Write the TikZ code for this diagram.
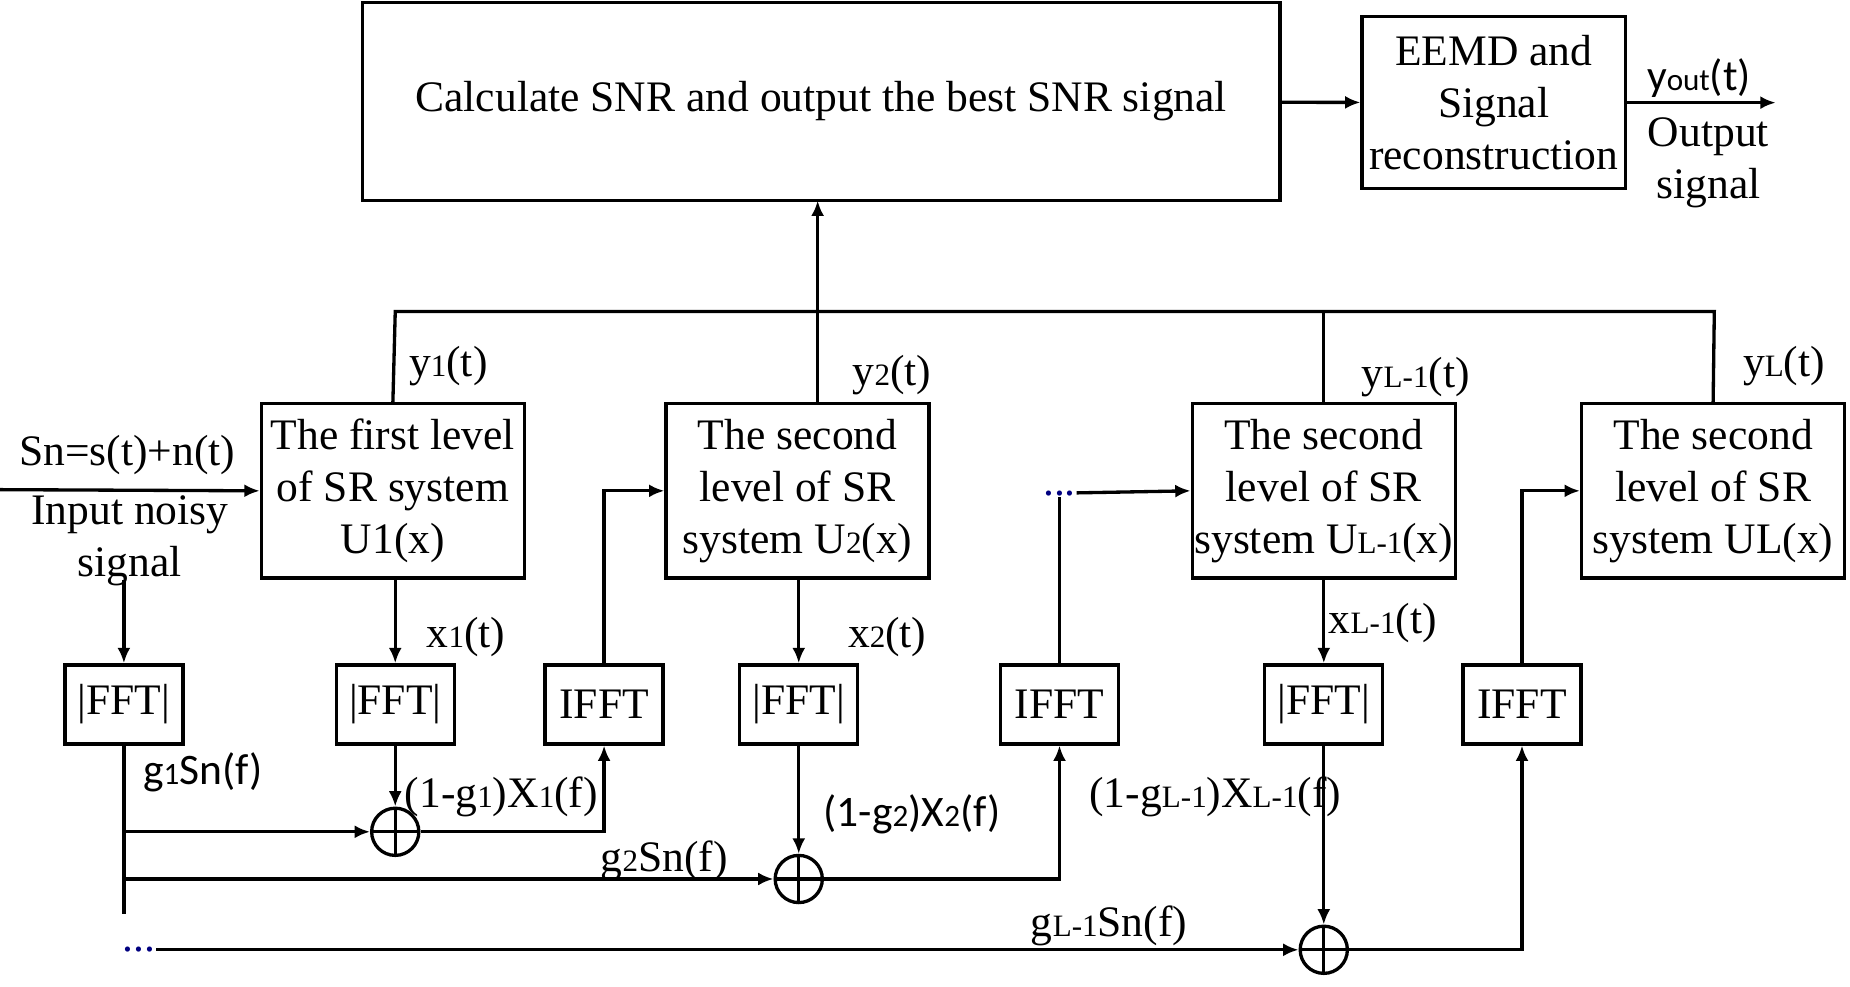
\documentclass[tikz,border=0pt]{standalone}
\usepackage{fontspec}
\setmainfont{Liberation Serif}
\newfontfamily\sansfam{Carlito}
\usetikzlibrary{positioning, arrows.meta}
\newcommand{\lo}[1]{{\fontsize{7.5}{8}\selectfont #1}}

\begin{document}
\begin{tikzpicture}[x=0.1mm, y=-0.1mm,
    font=\fontsize{10.5}{12.5}\selectfont,
    box/.style={rectangle, draw, thick, align=center, inner sep=0pt},
    level/.style={box, minimum width=22.3mm, minimum height=14.8mm},
    fft/.style={box, minimum width=10mm, minimum height=6.7mm},
    sum/.style={circle, draw, thick, minimum size=4mm, inner sep=0pt,
        path picture={\draw[thick] (path picture bounding box.north) -- (path picture bounding box.south)
        (path picture bounding box.west) -- (path picture bounding box.east);}},
    arrow/.style={-{Latex[length=1.3mm, width=1.1mm]}, thick},
    line/.style={thick}
]
\useasboundingbox (0,0) rectangle (1568,836);

% top row
\node[box, minimum width=77.8mm, minimum height=16.8mm] (snr) at (696,86) {Calculate SNR and output the best SNR signal};
\node[box, minimum width=22.3mm, minimum height=14.6mm] (eemd) at (1266,87) {EEMD and\\Signal\\reconstruction};
\coordinate (out) at (1505,86);

% SR levels
\node[level] (u1) at (333,416) {The first level\\of SR system\\U1(x)};
\node[level] (u2) at (676,416) {The second\\level of SR\\system U\lo{2}(x)};
\node[level] (u3) at (1122,416) {The second\\level of SR\\system U\lo{L-1}(x)};
\node[level] (u4) at (1452,416) {The second\\level of SR\\system UL(x)};

% FFT / IFFT
\node[fft] (f0) at (105,597) {|FFT|};
\node[fft] (f1) at (335,597) {|FFT|};
\node[fft] (i1) at (512,597) {IFFT};
\node[fft] (f2) at (677,597) {|FFT|};
\node[fft] (i2) at (898,597) {IFFT};
\node[fft] (f3) at (1122,597) {|FFT|};
\node[fft] (i3) at (1290,597) {IFFT};

% adders
\node[sum] (s1) at (335,705) {};
\node[sum] (s2) at (677,745) {};
\node[sum] (s3) at (1122,805) {};

\coordinate (in) at (0,415);
\coordinate (tap) at (105,775);
\node[inner sep=0pt] (dots0) at (118,805) {\textcolor{blue!50!black}{...}};
\node[inner sep=0pt] (dots1) at (898,418) {\textcolor{blue!50!black}{...}};

% connectors
\draw[arrow] (snr) -- (eemd);
\draw[arrow] (eemd) -- (eemd.east -| out);
\draw[line] (u1.north) -- (335,264) -- (1453,264) -- (u4.north);
\draw[line] (u3.north) -- (u3.north |- 0,264);
\draw[arrow] (693,342) -- (693,170);
\draw[arrow] (in) -- (u1.west);
\draw[arrow] (u1.south -| f0) -- (f0);
\draw[line] (f0) -- (tap);
\draw[arrow] (u1.south -| f1) -- (f1);
\draw[arrow] (f1) -- (s1);
\draw[arrow] (105,705) -- (s1);
\draw[arrow] (s1) -| (i1);
\draw[arrow] (i1) |- (u2.west);
\draw[arrow] (u2.south -| f2) -- (f2);
\draw[arrow] (f2) -- (s2);
\draw[arrow] (105,745) -- (s2);
\draw[arrow] (s2) -| (i2);
\draw[line] (i2) -- (dots1);
\draw[arrow] (dots1) -- (u3.west);
\draw[arrow] (u3.south -| f3) -- (f3);
\draw[arrow] (f3) -- (s3);
\draw[arrow] (dots0) -- (s3);
\draw[arrow] (s3) -| (i3);
\draw[arrow] (i3) |- (u4.west);

% labels
\node at (1440,66) {\sansfam y\lo{out}(t)};
\node[align=center] at (1448,138) {Output\\signal};
\node at (380,310) {y\lo{1}(t)};
\node at (756,318) {y\lo{2}(t)};
\node at (1200,320) {y\lo{L-1}(t)};
\node at (1512,310) {y\lo{L}(t)};
\node at (108,386) {Sn=s(t)+n(t)};
\node[align=center] at (110,458) {Input noisy\\signal};
\node at (395,540) {x\lo{1}(t)};
\node at (752,540) {x\lo{2}(t)};
\node at (1172,528) {x\lo{L-1}(t)};
\node at (172,655) {\sansfam g\lo{1}Sn(f)};
\node at (425,675) {(1-g\lo{1})X\lo{1}(f)};
\node at (773,690) {\sansfam (1-g\lo{2})X\lo{2}(f)};
\node at (563,730) {g\lo{2}Sn(f)};
\node at (1030,675) {(1-g\lo{L-1})X\lo{L-1}(f)};
\node at (940,785) {g\lo{L-1}Sn(f)};
\end{tikzpicture}
\end{document}
